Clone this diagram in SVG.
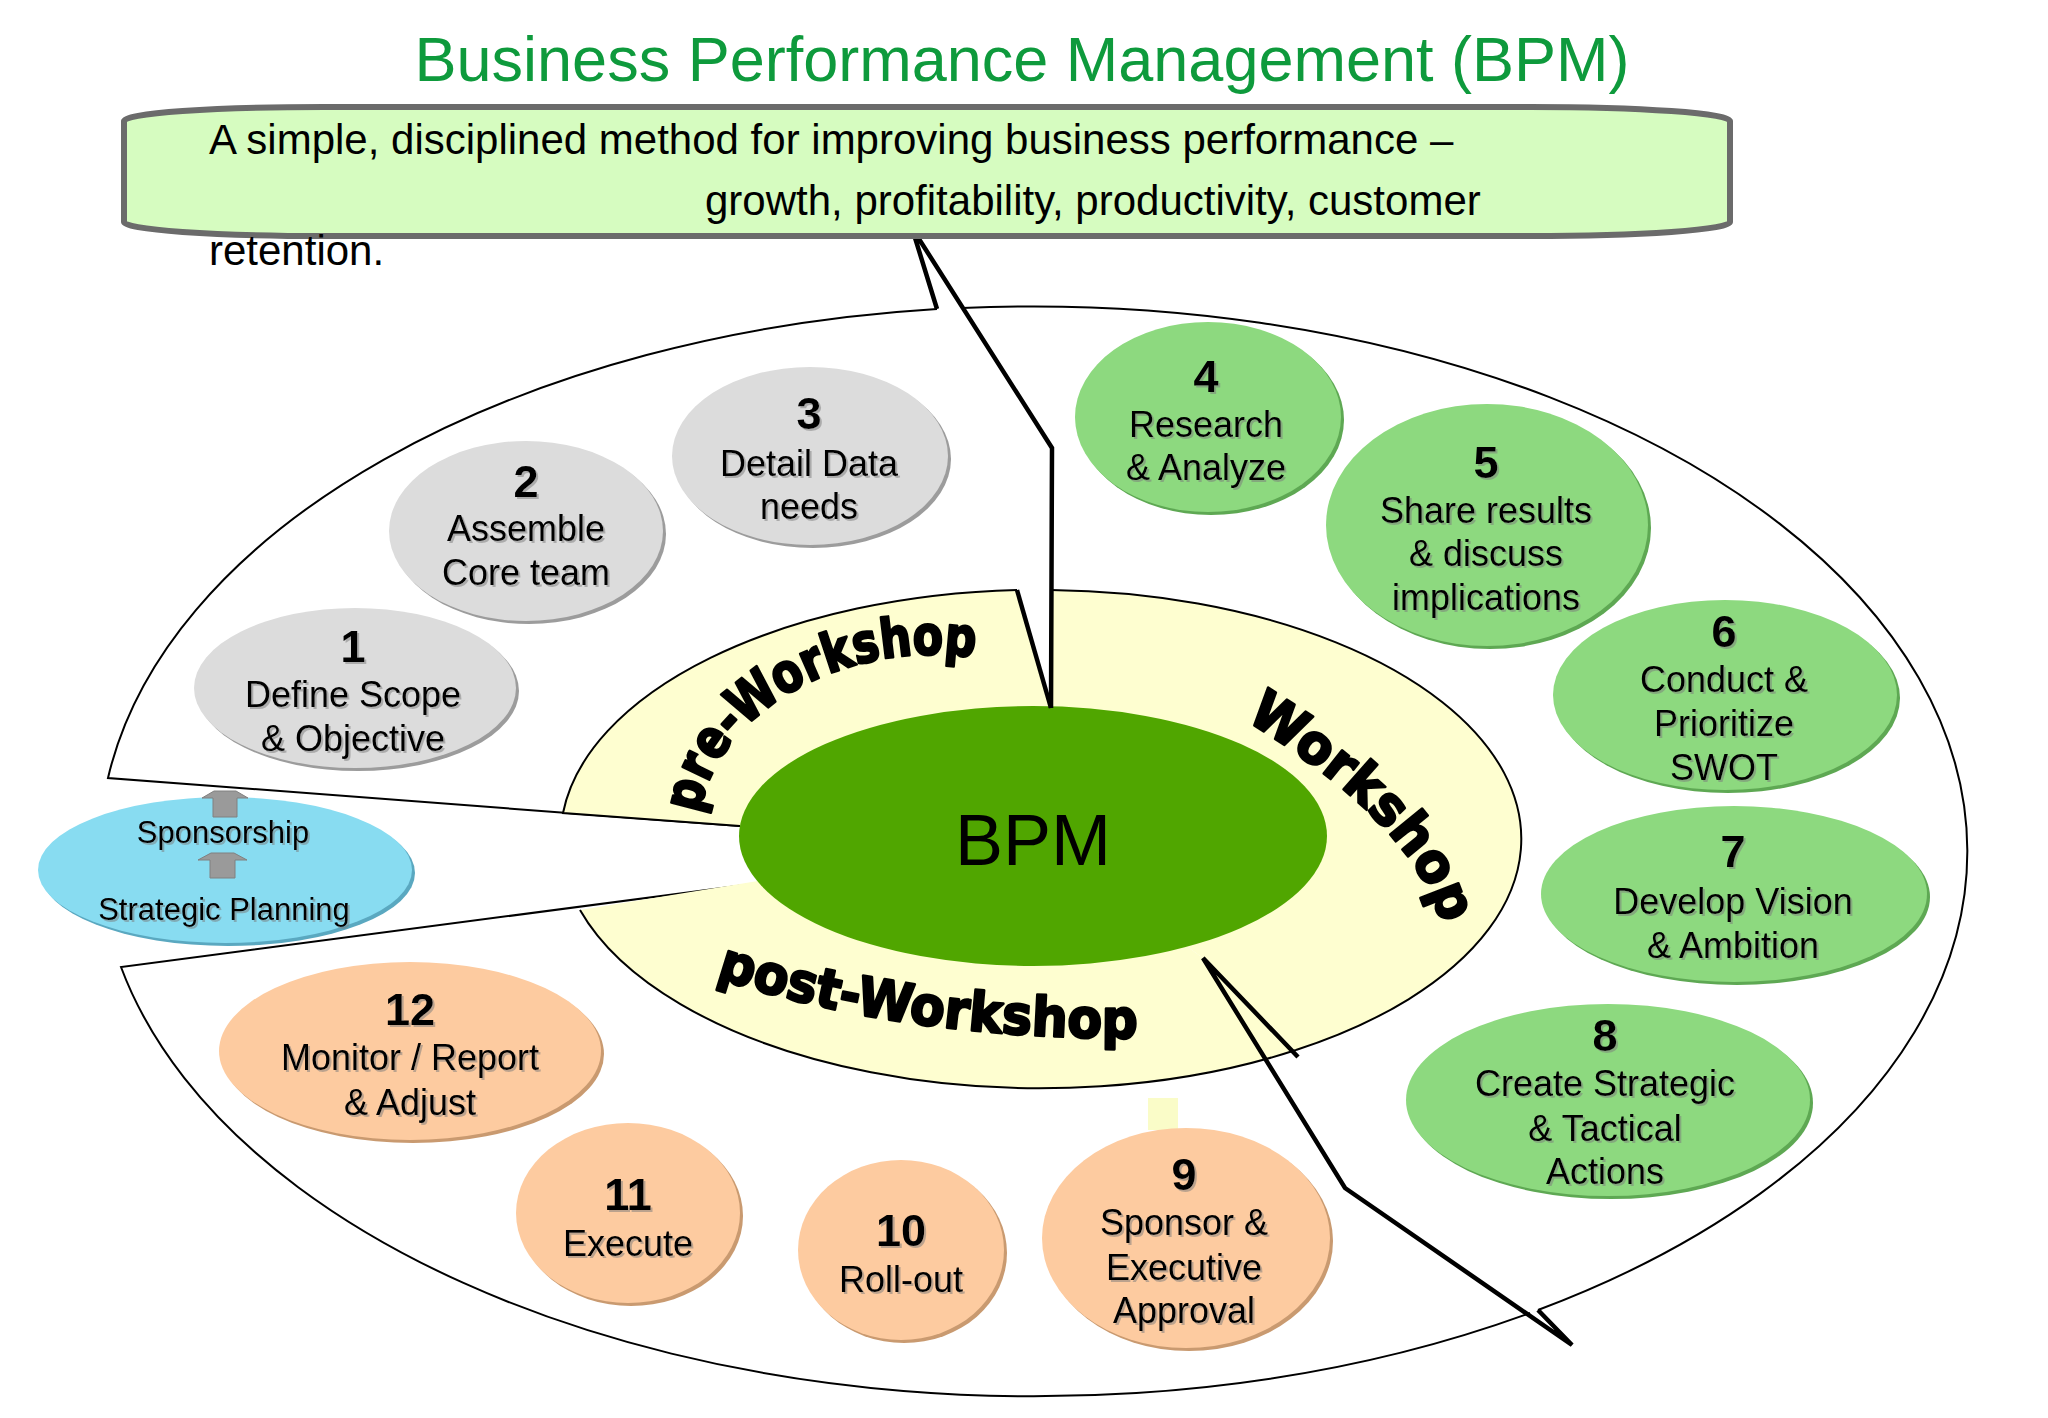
<svg xmlns="http://www.w3.org/2000/svg" width="2048" height="1418" viewBox="0 0 2048 1418">
<style>
.lbl{font-family:"Liberation Sans",Arial,sans-serif;font-size:36px;fill:#000;text-anchor:middle}
.num{font-weight:bold;font-size:45px}
.sp{font-size:31px}
.thin{fill:none;stroke:#000;stroke-width:2}
.thick{fill:none;stroke:#000;stroke-width:4.5;stroke-linejoin:miter;stroke-linecap:butt}
.ring{fill:#fefed0;stroke:none}
.arct{font-family:"DejaVu Sans",sans-serif;font-weight:bold;font-size:54px;fill:#000;stroke:#000;stroke-width:2.6;stroke-linejoin:round}
.gray{fill:#dcdcdc}.grayS{fill:#9c9c9c}
.grn{fill:#8dd97f}.grnS{fill:#5ea853}
.org{fill:#fdcba0}.orgS{fill:#c99a70}
.blu{fill:#88dcf1}.bluS{fill:#5aa8c0}
.arrow{fill:#9a9a9a;stroke:#808080;stroke-width:1}
.box{font-family:"Liberation Sans",Arial,sans-serif;font-size:42px;fill:#000}
</style>
<defs>
<filter id="tsh" x="-10%" y="-20%" width="130%" height="150%"><feDropShadow dx="2" dy="2" stdDeviation="0.7" flood-color="#7a7a7a" flood-opacity="0.5"/></filter>
<path id="prePath" d="M 700,814 C 712,715 850,628 1000,662"/>
<path id="wsPath" d="M 1245,720 Q 1403,816 1437,910"/>
<path id="postPath" d="M 716,978 Q 905,1040 1147,1038"/>
</defs>
<rect x="0" y="0" width="2048" height="1418" fill="#fff"/>

<g id="pie">
<path d="M 740,826 L 108,778 A 934 545 0 0 1 937,309" fill="#fff" stroke="#000" stroke-width="2"/>
<path d="M 760,883 L 121,967 A 934 545 0 0 0 1530,1313" fill="#fff" stroke="#000" stroke-width="2"/>
<path class="thin" d="M 962,308 A 934 545 0 0 1 1538,1310"/>
<path class="ring" d="M 1033,836 L 740,826 L 563,813 A 480 249 0 0 1 1017,590 L 1051,708 Z"/>
<path class="ring" d="M 1033,836 L 1051,708 L 1051,590 A 480 249 0 0 1 1296,1050 L 1203,958 Z"/>
<path class="ring" d="M 1033,836 L 580,910 A 480 249 0 0 0 1296,1050 L 1203,958 Z"/>
<path class="thin" d="M 740,826 L 563,813 A 480 249 0 0 1 1017,590"/>
<path class="thin" d="M 1051,590 A 480 249 0 0 1 1296,1050"/>
<path class="thin" d="M 580,910 A 480 249 0 0 0 1296,1050"/>
<rect x="1148" y="1098" width="30" height="32" fill="#fafcc8"/>
</g>

<g id="bpm">
<ellipse cx="1033" cy="836" rx="294" ry="130" fill="#50a600"/>
<text x="1033" y="865" font-family="Liberation Sans, Arial, sans-serif" font-size="72" text-anchor="middle" fill="#000">BPM</text>
</g>

<g id="connectors">
<path class="thick" d="M 937,309 L 912,228 L 1052,448 L 1051,708"/>
<path class="thick" d="M 1017,590 L 1051,708"/>
<path class="thick" d="M 1298,1057 L 1203,958 L 1345,1188 L 1572,1345 L 1538,1310"/>
</g>

<g id="phase-labels">
<text class="arct"><textPath href="#prePath" textLength="348" lengthAdjust="spacingAndGlyphs">pre-Workshop</textPath></text>
<text class="arct"><textPath href="#wsPath" textLength="290" lengthAdjust="spacingAndGlyphs">Workshop</textPath></text>
<text class="arct"><textPath href="#postPath" textLength="428" lengthAdjust="spacingAndGlyphs">post-Workshop</textPath></text>
</g>

<g id="node1">
<ellipse class="grayS" cx="358" cy="691" rx="161" ry="80"/>
<ellipse class="gray" cx="355" cy="688" rx="161" ry="80"/>
<g filter="url(#tsh)">
<text class="lbl num" x="353" y="662">1</text>
<text class="lbl" x="353" y="707">Define Scope</text>
<text class="lbl" x="353" y="751">&amp; Objective</text>
</g>
</g>
<g id="node2">
<ellipse class="grayS" cx="529" cy="534" rx="137" ry="90"/>
<ellipse class="gray" cx="526" cy="531" rx="137" ry="90"/>
<g filter="url(#tsh)">
<text class="lbl num" x="526" y="497">2</text>
<text class="lbl" x="526" y="541">Assemble</text>
<text class="lbl" x="526" y="585">Core team</text>
</g>
</g>
<g id="node3">
<ellipse class="grayS" cx="813" cy="459" rx="138" ry="89"/>
<ellipse class="gray" cx="810" cy="456" rx="138" ry="89"/>
<g filter="url(#tsh)">
<text class="lbl num" x="809" y="429">3</text>
<text class="lbl" x="809" y="476">Detail Data</text>
<text class="lbl" x="809" y="519">needs</text>
</g>
</g>
<g id="node4">
<ellipse class="grnS" cx="1211" cy="420" rx="133" ry="95"/>
<ellipse class="grn" cx="1208" cy="417" rx="133" ry="95"/>
<g filter="url(#tsh)">
<text class="lbl num" x="1206" y="392">4</text>
<text class="lbl" x="1206" y="437">Research</text>
<text class="lbl" x="1206" y="480">&amp; Analyze</text>
</g>
</g>
<g id="node5">
<ellipse class="grnS" cx="1490" cy="528" rx="161" ry="121"/>
<ellipse class="grn" cx="1487" cy="525" rx="161" ry="121"/>
<g filter="url(#tsh)">
<text class="lbl num" x="1486" y="478">5</text>
<text class="lbl" x="1486" y="523">Share results</text>
<text class="lbl" x="1486" y="566">&amp; discuss</text>
<text class="lbl" x="1486" y="610">implications</text>
</g>
</g>
<g id="node6">
<ellipse class="grnS" cx="1728" cy="698" rx="172" ry="95"/>
<ellipse class="grn" cx="1725" cy="695" rx="172" ry="95"/>
<g filter="url(#tsh)">
<text class="lbl num" x="1724" y="647">6</text>
<text class="lbl" x="1724" y="692">Conduct &amp;</text>
<text class="lbl" x="1724" y="736">Prioritize</text>
<text class="lbl" x="1724" y="780">SWOT</text>
</g>
</g>
<g id="node7">
<ellipse class="grnS" cx="1737" cy="897" rx="193" ry="88"/>
<ellipse class="grn" cx="1734" cy="894" rx="193" ry="88"/>
<g filter="url(#tsh)">
<text class="lbl num" x="1733" y="867">7</text>
<text class="lbl" x="1733" y="914">Develop Vision</text>
<text class="lbl" x="1733" y="958">&amp; Ambition</text>
</g>
</g>
<g id="node8">
<ellipse class="grnS" cx="1611" cy="1103" rx="202" ry="96"/>
<ellipse class="grn" cx="1608" cy="1100" rx="202" ry="96"/>
<g filter="url(#tsh)">
<text class="lbl num" x="1605" y="1051">8</text>
<text class="lbl" x="1605" y="1096">Create Strategic</text>
<text class="lbl" x="1605" y="1141">&amp; Tactical</text>
<text class="lbl" x="1605" y="1184">Actions</text>
</g>
</g>
<g id="node9">
<ellipse class="orgS" cx="1189" cy="1241" rx="144" ry="110"/>
<ellipse class="org" cx="1186" cy="1238" rx="144" ry="110"/>
<g filter="url(#tsh)">
<text class="lbl num" x="1184" y="1190">9</text>
<text class="lbl" x="1184" y="1235">Sponsor &amp;</text>
<text class="lbl" x="1184" y="1280">Executive</text>
<text class="lbl" x="1184" y="1323">Approval</text>
</g>
</g>
<g id="node10">
<ellipse class="orgS" cx="904" cy="1253" rx="103" ry="90"/>
<ellipse class="org" cx="901" cy="1250" rx="103" ry="90"/>
<g filter="url(#tsh)">
<text class="lbl num" x="901" y="1246">10</text>
<text class="lbl" x="901" y="1292">Roll-out</text>
</g>
</g>
<g id="node11">
<ellipse class="orgS" cx="631" cy="1216" rx="112" ry="90"/>
<ellipse class="org" cx="628" cy="1213" rx="112" ry="90"/>
<g filter="url(#tsh)">
<text class="lbl num" x="628" y="1210">11</text>
<text class="lbl" x="628" y="1256">Execute</text>
</g>
</g>
<g id="node12">
<ellipse class="orgS" cx="413" cy="1054" rx="191" ry="89"/>
<ellipse class="org" cx="410" cy="1051" rx="191" ry="89"/>
<g filter="url(#tsh)">
<text class="lbl num" x="410" y="1025">12</text>
<text class="lbl" x="410" y="1070">Monitor / Report</text>
<text class="lbl" x="410" y="1115">&amp; Adjust</text>
</g>
</g>
<g id="sponsorship">
<ellipse class="bluS" cx="228" cy="873" rx="187" ry="73"/>
<ellipse class="blu" cx="225" cy="870" rx="187" ry="73"/>
<polygon class="arrow" points="213,817 213,798 202,798 214,791 236,791 248,798 237,798 237,817"/>
<polygon class="arrow" points="210,878 210,860 198,860 211,853 234,853 247,860 235,860 235,878"/>
<g filter="url(#tsh)">
<text class="lbl sp" x="223" y="843">Sponsorship</text>
<text class="lbl sp" x="224" y="920">Strategic Planning</text>
</g>
</g>

<g id="callout">
<path d="M 324,107 L 1530,107 A 200 14 0 0 1 1730,121 L 1730,222 A 200 14 0 0 1 1530,236 L 324,236 A 200 14 0 0 1 124,222 L 124,121 A 200 14 0 0 1 324,107 Z" fill="#d6fcc0" stroke="#6b6b6b" stroke-width="6"/>
<text class="box" x="209" y="154">A simple, disciplined method for improving business performance –</text>
<text class="box" x="705" y="215">growth, profitability, productivity, customer</text>
<text class="box" x="209" y="265">retention.</text>
</g>

<g id="title">
<text x="1022" y="81" font-family="Liberation Sans, Arial, sans-serif" font-size="63" text-anchor="middle" fill="#0e9a3c">Business Performance Management (BPM)</text>
</g>
</svg>
